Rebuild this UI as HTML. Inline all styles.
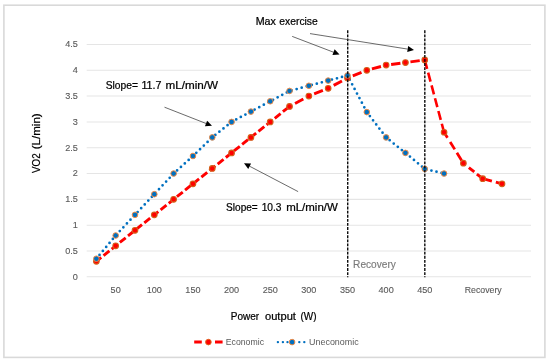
<!DOCTYPE html>
<html><head><meta charset="utf-8"><title>VO2 vs Power output</title>
<style>html,body{margin:0;padding:0;background:#fff;overflow:hidden}svg{display:block}</style></head><body>
<svg width="550" height="364" viewBox="0 0 550 364" font-family="&quot;Liberation Sans&quot;, sans-serif">
<rect x="0" y="0" width="550" height="364" fill="#fff"/>
<rect x="3.9" y="5.2" width="541" height="352.2" fill="#fff" stroke="#d9d9d9" stroke-width="1.6"/>
<defs><filter id="soft" x="0" y="0" width="550" height="364" filterUnits="userSpaceOnUse"><feGaussianBlur stdDeviation="0.32"/></filter></defs>
<g filter="url(#soft)">
<line x1="86.7" x2="531.0" y1="276.80" y2="276.80" stroke="#e5e5e5" stroke-width="1.05"/>
<line x1="86.7" x2="531.0" y1="250.99" y2="250.99" stroke="#e5e5e5" stroke-width="1.05"/>
<line x1="86.7" x2="531.0" y1="225.17" y2="225.17" stroke="#e5e5e5" stroke-width="1.05"/>
<line x1="86.7" x2="531.0" y1="199.36" y2="199.36" stroke="#e5e5e5" stroke-width="1.05"/>
<line x1="86.7" x2="531.0" y1="173.54" y2="173.54" stroke="#e5e5e5" stroke-width="1.05"/>
<line x1="86.7" x2="531.0" y1="147.72" y2="147.72" stroke="#e5e5e5" stroke-width="1.05"/>
<line x1="86.7" x2="531.0" y1="121.91" y2="121.91" stroke="#e5e5e5" stroke-width="1.05"/>
<line x1="86.7" x2="531.0" y1="96.09" y2="96.09" stroke="#e5e5e5" stroke-width="1.05"/>
<line x1="86.7" x2="531.0" y1="70.28" y2="70.28" stroke="#e5e5e5" stroke-width="1.05"/>
<line x1="86.7" x2="531.0" y1="44.47" y2="44.47" stroke="#e5e5e5" stroke-width="1.05"/>
<g font-size="9.1" fill="#595959" stroke="#595959" stroke-width="0.12" text-anchor="end">
<text x="77.9" y="279.65">0</text>
<text x="77.9" y="253.84">0.5</text>
<text x="77.9" y="228.02">1</text>
<text x="77.9" y="202.21">1.5</text>
<text x="77.9" y="176.39">2</text>
<text x="77.9" y="150.57">2.5</text>
<text x="77.9" y="124.76">3</text>
<text x="77.9" y="98.94">3.5</text>
<text x="77.9" y="73.13">4</text>
<text x="77.9" y="47.32">4.5</text>
</g>
<g font-size="9.1" fill="#595959" stroke="#595959" stroke-width="0.12" text-anchor="middle">
<text x="115.68" y="292.8">50</text>
<text x="154.31" y="292.8">100</text>
<text x="192.95" y="292.8">150</text>
<text x="231.58" y="292.8">200</text>
<text x="270.22" y="292.8">250</text>
<text x="308.85" y="292.8">300</text>
<text x="347.48" y="292.8">350</text>
<text x="386.12" y="292.8">400</text>
<text x="424.75" y="292.8">450</text>
<text x="483.2" y="292.8" textLength="37" lengthAdjust="spacingAndGlyphs">Recovery</text>
</g>
<path d="M99.52 254.93h.01M102.85 250.92h.01M106.19 246.91h.01M109.52 242.90h.01M112.86 238.88h.01M116.23 234.90h.01M119.79 231.09h.01M123.36 227.28h.01M126.92 223.47h.01M130.48 219.66h.01M134.05 215.85h.01M137.61 212.04h.01M141.18 208.23h.01M144.74 204.42h.01M148.30 200.61h.01M151.87 196.80h.01M155.43 192.99h.01M159.00 189.18h.01M162.56 185.37h.01M166.12 181.56h.01M169.69 177.75h.01M173.25 173.94h.01M177.08 170.40h.01M180.94 166.89h.01M184.80 163.39h.01M188.66 159.88h.01M192.52 156.37h.01M196.29 152.76h.01M200.05 149.15h.01M203.81 145.53h.01M207.57 141.91h.01M211.33 138.30h.01M215.32 134.94h.01M219.39 131.68h.01M223.47 128.42h.01M227.54 125.15h.01M231.61 121.89h.01M236.21 119.44h.01M240.81 116.98h.01M245.41 114.52h.01M250.01 112.06h.01M254.61 109.60h.01M259.21 107.14h.01M263.82 104.68h.01M268.42 102.22h.01M273.02 99.76h.01M277.62 97.30h.01M282.22 94.84h.01M286.82 92.38h.01M291.60 90.38h.01M296.64 89.03h.01M301.68 87.69h.01M306.72 86.34h.01M311.76 84.99h.01M316.80 83.64h.01M321.84 82.30h.01M326.88 80.95h.01M331.92 79.60h.01M336.96 78.26h.01M342.00 76.91h.01M347.04 75.56h.01M349.70 79.65h.01M352.14 84.27h.01M354.57 88.88h.01M357.00 93.50h.01M359.43 98.11h.01M361.86 102.73h.01M364.30 107.35h.01M366.73 111.96h.01M369.87 116.12h.01M373.04 120.27h.01M376.20 124.41h.01M379.37 128.56h.01M382.54 132.71h.01M385.70 136.85h.01M389.65 140.23h.01M393.72 143.50h.01M397.79 146.76h.01M401.86 150.02h.01M405.93 153.30h.01M409.95 156.62h.01M413.96 159.95h.01M417.98 163.28h.01M422.00 166.61h.01M426.35 169.28h.01M431.42 170.50h.01M436.49 171.72h.01M441.56 172.94h.01" fill="none" stroke="#0070c0" stroke-width="2.75" stroke-linecap="round"/>
<path d="M96.36 261.31L101.23 257.40M103.54 255.56L109.39 250.86M111.69 249.02L115.68 245.82M115.68 245.82L117.54 244.33M119.84 242.48L125.69 237.79M127.99 235.94L133.85 231.25M136.15 229.41L142.00 224.72M144.30 222.87L150.15 218.18M152.45 216.33L154.31 214.84M154.31 214.84L158.30 211.64M160.61 209.80L166.46 205.10M168.76 203.26L173.63 199.36M173.63 199.36L174.61 198.57M176.91 196.72L182.76 192.03M185.06 190.18L190.92 185.49M193.22 183.65L199.07 178.96M201.37 177.11L207.22 172.42M209.52 170.57L212.26 168.38M212.26 168.38L215.37 165.88M217.68 164.04L223.53 159.34M225.83 157.50L231.58 152.89M231.58 152.89L231.68 152.81M233.98 150.96L239.83 146.27M242.13 144.43L247.99 139.73M250.29 137.89L250.90 137.40M250.90 137.40L256.14 133.20M258.44 131.35L264.29 126.66M266.59 124.81L270.22 121.91M270.22 121.91L272.44 120.12M274.75 118.28L280.60 113.59M282.90 111.74L288.75 107.05M295.05 103.47L303.34 99.04M314.15 93.97L322.87 90.47M333.68 85.40L341.97 80.97M352.78 75.90L361.51 72.40M371.92 68.91L381.00 66.48M391.12 64.45L400.44 63.20M410.44 61.87L419.75 60.62M468.85 167.59L474.31 171.97M476.89 174.04L482.71 178.70M482.71 178.70L491.88 181.16M495.85 182.21L502.02 183.87" fill="none" stroke="#ff0000" stroke-width="2.90"/>
<path d="M424.75 59.95L427.13 68.84M428.16 72.71L430.54 81.59M431.57 85.46L433.95 94.35M434.98 98.21L437.35 107.10M438.39 110.96L440.76 119.85M441.79 123.72L444.07 132.24" fill="none" stroke="#ff0000" stroke-width="2.60"/>
<path d="M444.07 132.24L447.46 137.67M450.16 141.99L454.76 149.38M456.88 152.77L461.64 160.41" fill="none" stroke="#ff0000" stroke-width="2.75"/>
<g fill="#ff0000" stroke="#d4601a" stroke-width="1.1">
<circle cx="96.36" cy="261.31" r="2.8"/>
<circle cx="115.68" cy="245.82" r="2.8"/>
<circle cx="134.99" cy="230.33" r="2.8"/>
<circle cx="154.31" cy="214.84" r="2.8"/>
<circle cx="173.63" cy="199.36" r="2.8"/>
<circle cx="192.95" cy="183.87" r="2.8"/>
<circle cx="212.26" cy="168.38" r="2.8"/>
<circle cx="231.58" cy="152.89" r="2.8"/>
<circle cx="250.90" cy="137.40" r="2.8"/>
<circle cx="270.22" cy="121.91" r="2.8"/>
<circle cx="289.53" cy="106.42" r="2.8"/>
<circle cx="308.85" cy="96.09" r="2.8"/>
<circle cx="328.17" cy="88.35" r="2.8"/>
<circle cx="347.48" cy="78.02" r="2.8"/>
<circle cx="366.80" cy="70.28" r="2.8"/>
<circle cx="386.12" cy="65.12" r="2.8"/>
<circle cx="405.44" cy="62.54" r="2.8"/>
<circle cx="424.75" cy="59.95" r="2.8"/>
<circle cx="444.07" cy="132.24" r="2.8"/>
<circle cx="463.39" cy="163.21" r="2.8"/>
<circle cx="482.71" cy="178.70" r="2.8"/>
<circle cx="502.02" cy="183.87" r="2.8"/>
</g>
<g fill="#0070c0" stroke="#ed8a45" stroke-width="1">
<circle cx="96.36" cy="258.73" r="2.8"/>
<circle cx="115.68" cy="235.50" r="2.8"/>
<circle cx="134.99" cy="214.84" r="2.8"/>
<circle cx="154.31" cy="194.19" r="2.8"/>
<circle cx="173.63" cy="173.54" r="2.8"/>
<circle cx="192.95" cy="155.99" r="2.8"/>
<circle cx="212.26" cy="137.40" r="2.8"/>
<circle cx="231.58" cy="121.91" r="2.8"/>
<circle cx="250.90" cy="111.58" r="2.8"/>
<circle cx="270.22" cy="101.26" r="2.8"/>
<circle cx="289.53" cy="90.93" r="2.8"/>
<circle cx="308.85" cy="85.77" r="2.8"/>
<circle cx="328.17" cy="80.61" r="2.8"/>
<circle cx="347.48" cy="75.44" r="2.8"/>
<circle cx="366.80" cy="112.10" r="2.8"/>
<circle cx="386.12" cy="137.40" r="2.8"/>
<circle cx="405.44" cy="152.89" r="2.8"/>
<circle cx="424.75" cy="168.89" r="2.8"/>
<circle cx="444.07" cy="173.54" r="2.8"/>
</g>
<line x1="347.7" x2="347.7" y1="30.3" y2="277.2" stroke="#0a0a0a" stroke-width="1.4" stroke-dasharray="2.85 1.25"/>
<line x1="424.8" x2="424.8" y1="30.3" y2="277.2" stroke="#0a0a0a" stroke-width="1.4" stroke-dasharray="2.85 1.25"/>
<line x1="292.2" y1="36.4" x2="333.52" y2="52.21" stroke="#3a3a3a" stroke-width="0.75"/><polygon points="339.50,54.50 332.43,55.06 334.61,49.36" fill="#000"/>
<line x1="310.0" y1="33.6" x2="407.68" y2="49.10" stroke="#3a3a3a" stroke-width="0.75"/><polygon points="414.00,50.10 407.20,52.11 408.16,46.08" fill="#000"/>
<line x1="164.5" y1="107.2" x2="206.04" y2="123.47" stroke="#3a3a3a" stroke-width="0.75"/><polygon points="212.00,125.80 204.93,126.31 207.15,120.63" fill="#000"/>
<line x1="298.1" y1="191.6" x2="249.67" y2="166.27" stroke="#3a3a3a" stroke-width="0.75"/><polygon points="244.00,163.30 251.08,163.56 248.26,168.97" fill="#000"/>
<g font-size="10.2" fill="#000" stroke="#000" stroke-width="0.22">
<text y="25.4"><tspan x="255.7" textLength="20.2" lengthAdjust="spacingAndGlyphs">Max</tspan> <tspan x="279.3" textLength="38.5" lengthAdjust="spacingAndGlyphs">exercise</tspan></text>
<text y="88.8"><tspan x="105.7" textLength="32.2" lengthAdjust="spacingAndGlyphs">Slope=</tspan> <tspan x="141.4" textLength="20.1" lengthAdjust="spacingAndGlyphs">11.7</tspan> <tspan x="165.5" textLength="52.5" lengthAdjust="spacingAndGlyphs">mL/min/W</tspan></text>
<text y="211.3"><tspan x="226.1" textLength="31.6" lengthAdjust="spacingAndGlyphs">Slope=</tspan> <tspan x="261.7" textLength="19.8" lengthAdjust="spacingAndGlyphs">10.3</tspan> <tspan x="286.2" textLength="51.6" lengthAdjust="spacingAndGlyphs">mL/min/W</tspan></text>
<text y="320.2"><tspan x="230.8" textLength="28.4" lengthAdjust="spacingAndGlyphs">Power</tspan> <tspan x="265.0" textLength="30.9" lengthAdjust="spacingAndGlyphs">output</tspan> <tspan x="300.5" textLength="16.0" lengthAdjust="spacingAndGlyphs">(W)</tspan></text>
<text y="0.0" transform="translate(39.9,172.9) rotate(-90)"><tspan x="0.0" textLength="19.5" lengthAdjust="spacingAndGlyphs">VO2</tspan> <tspan x="23.6" textLength="36.0" lengthAdjust="spacingAndGlyphs">(L/min)</tspan></text>
</g>
<text x="353.1" y="268.1" font-size="10.2" fill="#7a7a7a" stroke="#7a7a7a" stroke-width="0.15" textLength="42.8" lengthAdjust="spacingAndGlyphs">Recovery</text>
<path d="M194.2 342.1h7.6M215 342.1h7.6" stroke="#ff0000" stroke-width="3" fill="none"/>
<circle cx="208.4" cy="342.1" r="2.8" fill="#ff0000" stroke="#e0601c" stroke-width="1"/>
<text x="225.8" y="345.0" font-size="8.4" fill="#595959" textLength="38.2" lengthAdjust="spacingAndGlyphs">Economic</text>
<path d="M277.9 342.1h.01M282.9 342.1h.01M287.5 342.1h.01M299.3 342.1h.01M304.3 342.1h.01" fill="none" stroke="#0070c0" stroke-width="2.4" stroke-linecap="round"/>
<circle cx="292.1" cy="342.1" r="2.8" fill="#0070c0" stroke="#ed8a45" stroke-width="1"/>
<text x="309.1" y="345.0" font-size="8.4" fill="#595959" textLength="49.5" lengthAdjust="spacingAndGlyphs">Uneconomic</text>
</g>
</svg></body></html>
